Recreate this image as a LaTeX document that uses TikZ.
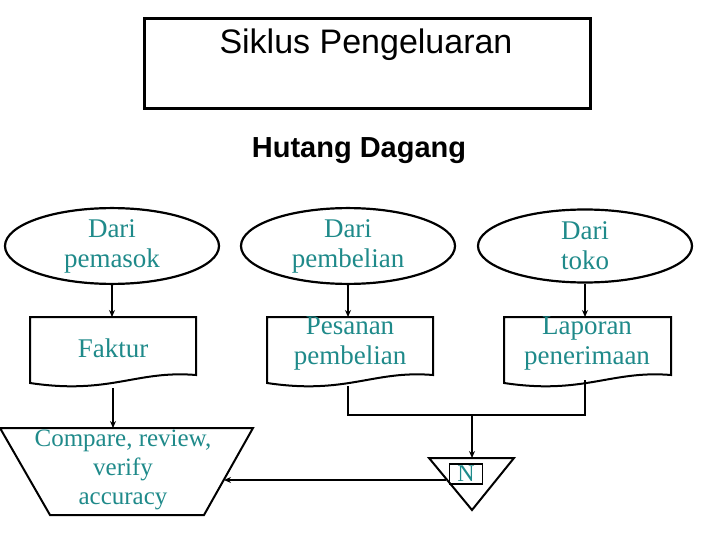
\documentclass[tikz,border=0pt]{standalone}
\usepackage{fontspec}
\setmainfont{Liberation Serif}
\newfontfamily\hv{Liberation Sans}
\usetikzlibrary{arrows.meta,shapes.geometric}
\definecolor{teal1}{HTML}{1F8A8A}
\begin{document}
\begin{tikzpicture}[x=1pt,y=-1pt,line width=2.2pt,
  lbl/.style={text=teal1,font=\fontsize{27}{30}\selectfont,align=center},
  arr/.style={-{Stealth[length=7pt,width=6pt]},line width=1.6pt},
  ln/.style={line width=2pt}]
\useasboundingbox (0,0) rectangle (720,540);
\node[draw,line width=3pt,minimum width=446pt,minimum height=90pt,anchor=north west,inner sep=0] (title) at (143,17) {};
\node[font=\hv\fontsize{34}{38}\selectfont] (tt) at (366,45) {Siklus Pengeluaran};
\node[font=\hv\bfseries\fontsize{29}{32}\selectfont] (hd) at (359,151) {Hutang Dagang};
\foreach \n/\x/\t in {e1/112/{Dari\\pemasok},e2/348/{Dari\\pembelian},e3/585/{Dari\\toko}}{
  \node[draw,ellipse,minimum width=214pt,minimum height=73pt,inner sep=0,lbl] (\n) at (\x,246) {\t};
}
% documents
\foreach \n/\l/\r in {d1/30/196,d2/267/433,d3/504/671}{
  \draw[ln] (\l,317) -- (\r,317) -- (\r,375) .. controls ({\r-60},370) and ({\l+80},395) .. (\l,383) -- cycle;
  \coordinate (\n) at ({(\l+\r)/2},317);
}
\node[lbl] (t1) at (113,348) {Faktur};
\node[lbl] (t2) at (350,344) {Pesanan\\pembelian};
\node[lbl] (t3) at (587,344) {Laporan\\penerimaan};
\draw[arr] (e1.south) -- (e1.south |- d1);
\draw[arr] (e2.south) -- (e2.south |- d2);
\draw[arr] (e3.south) -- (e3.south |- d3);
% trapezoid
\draw[ln] (0,428) -- (253,428) -- (204,515) -- (50,515) -- cycle;
\node[lbl,font=\fontsize{25}{29}\selectfont] (cmp) at (123,470) {Compare, review,\\verify\\accuracy};
\coordinate (ttop) at (113,428);
\draw[arr] (113,388) -- (ttop);
% bracket
\coordinate (b1) at (348,386);
\coordinate (b2) at (585,380);
\draw[ln] (b1) -- (348,415) -- (585,415) -- (b2);
% triangle
\draw[ln] (429,458) -- (514,458) -- (472,510) -- cycle;
\coordinate (tri) at (472,458);
\draw[arr] (472,415) -- (tri);
\node[draw,line width=1.2pt,minimum width=33pt,minimum height=20pt,inner sep=0,text=teal1,font=\fontsize{24}{20}\selectfont] (N) at (466,474) {N};
\coordinate (tl) at (446,480);
\coordinate (tr) at (224,480);
\draw[arr] (tl) -- (tr);
\end{tikzpicture}
\end{document}
